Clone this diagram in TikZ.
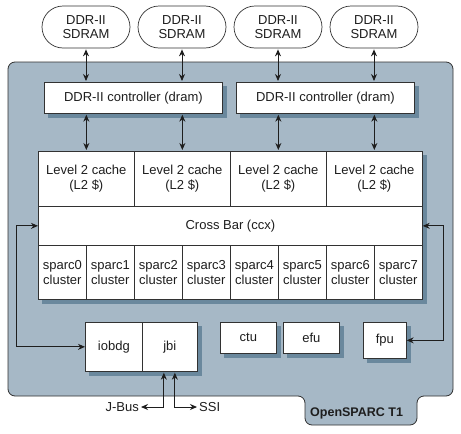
\documentclass[tikz,border=0pt]{standalone}
\usepackage{fontspec}
\setmainfont{Liberation Sans}
\usetikzlibrary{arrows.meta}
\definecolor{panelc}{RGB}{166,184,198}
\definecolor{shadc}{RGB}{106,136,157}
\definecolor{linec}{RGB}{50,50,50}
\definecolor{textc}{RGB}{30,30,30}
\pgfdeclarelayer{bg}\pgfdeclarelayer{sh}\pgfsetlayers{bg,sh,main}
\begin{document}
\begin{tikzpicture}[x=1pt,y=-1pt,
  box/.style={draw=linec, line width=0.7pt, fill=white, inner sep=0pt, align=center,
    font=\fontsize{13}{15}\selectfont, text=textc, anchor=north west},
  oval/.style={draw=linec, line width=0.7pt, fill=white, inner sep=0pt, align=center,
    font=\fontsize{13}{14.5}\selectfont, text=textc, rounded corners=21pt,
    minimum width=88pt, minimum height=42pt},
  lbl/.style={inner sep=2pt, font=\fontsize{13}{15}\selectfont, text=textc},
  dbl/.style={{Stealth[length=7pt,width=6pt]}-{Stealth[length=7pt,width=6pt]},
    line width=0.9pt, draw=textc, shorten <=1pt, shorten >=1pt},
  conn/.style={{Stealth[length=7pt,width=6pt]}-{Stealth[length=7pt,width=6pt]},
    line width=0.9pt, draw=textc}]
\useasboundingbox (0,0) rectangle (461,434);
% panel
\begin{pgfonlayer}{bg}
\fill[white] (0,0) rectangle (461,434);
\draw[draw=linec, fill=panelc, line width=0.8pt, rounded corners=7pt]
  (8,62) -- (453,62) -- (453,396) -- (417,396) -- (417,425) -- (305,425) -- (305,396) -- (8,396) -- cycle;
\end{pgfonlayer}
% SDRAMs
\node[oval] (s1) at (86,27) {DDR-II\\SDRAM};
\node[oval] (s2) at (182,27) {DDR-II\\SDRAM};
\node[oval] (s3) at (278,27) {DDR-II\\SDRAM};
\node[oval] (s4) at (374,27) {DDR-II\\SDRAM};
% controllers
\node[box, minimum width=178pt, minimum height=31pt] (c1) at (44,82) {DDR-II controller (dram)};
\node[box, minimum width=178pt, minimum height=31pt] (c2) at (236,82) {DDR-II controller (dram)};
% L2
\node[box, minimum width=96pt, minimum height=55pt] (l1) at (38,151) {Level 2 cache\\(L2 \$)};
\node[box, minimum width=96pt, minimum height=55pt] (l2) at (134,151) {Level 2 cache\\(L2 \$)};
\node[box, minimum width=96pt, minimum height=55pt] (l3) at (230,151) {Level 2 cache\\(L2 \$)};
\node[box, minimum width=96pt, minimum height=55pt] (l4) at (326,151) {Level 2 cache\\(L2 \$)};
% crossbar
\node[box, minimum width=384pt, minimum height=39pt] (cb) at (38,206) {Cross Bar (ccx)};
% sparc clusters
\foreach \i in {0,...,7}{
  \node[box, minimum width=48pt, minimum height=54pt] (p\i) at ({38+48*\i},245) {sparc\i\\cluster};
}
% bottom units
\node[box, minimum width=57pt, minimum height=49pt] (io) at (85,322) {iobdg};
\node[box, minimum width=55pt, minimum height=49pt] (jbi) at (142,322) {jbi};
\node[box, minimum width=56pt, minimum height=31pt] (ctu) at (220,322) {ctu};
\node[box, minimum width=56pt, minimum height=31pt] (efu) at (283,322) {efu};
\node[box, minimum width=43pt, minimum height=36pt] (fpu) at (363,322) {fpu};
% shadows
\begin{pgfonlayer}{sh}
\foreach \a/\b in {c1/c1,c2/c2,l1/p7,io/jbi,ctu/ctu,efu/efu,fpu/fpu}{
  \fill[shadc] ([shift={(4,4)}]\a.north west) rectangle ([shift={(4,4)}]\b.south east);
}
\end{pgfonlayer}
% memory arrows
\foreach \s/\c/\l in {s1/c1/l1,s2/c1/l2,s3/c2/l3,s4/c2/l4}{
  \draw[dbl] (\s.south) -- (\s.south |- \c.north);
  \draw[dbl] (\l.north |- \c.south) -- (\l.north);
}
% side connectors
\draw[conn] (cb.west) -- ++(-22,0) |- (io.west);
\draw[conn] (cb.east) -- ++(21,0) |- (fpu.east);
% bus
\node[lbl, anchor=east] (jb) at (141,407) {J-Bus};
\node[lbl, anchor=west] (ssi) at (197,407) {SSI};
\draw[conn] ([xshift=-6pt,yshift=-1pt]jbi.south) |- (jb.east);
\draw[conn] ([xshift=5pt,yshift=-1pt]jbi.south) |- (ssi.west);
% title
\node[anchor=base west, inner sep=0pt, font=\bfseries\fontsize{12.5}{14}\selectfont, text=textc] (title) at (310,416) {OpenSPARC T1};
\end{tikzpicture}
\end{document}
